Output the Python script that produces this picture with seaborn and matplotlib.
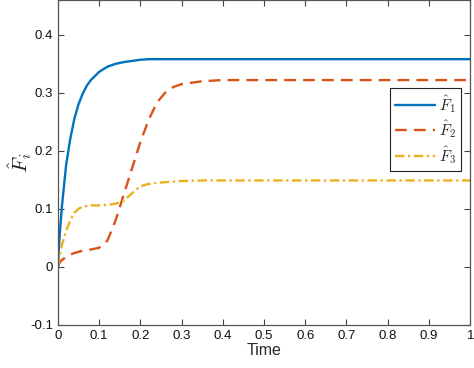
import numpy as np
import pandas as pd
import matplotlib
matplotlib.use("Agg")
import matplotlib.pyplot as plt
import seaborn as sns

# values
time = [0, 0.005, 0.01, 0.02, 0.03, 0.04, 0.05, 0.06, 0.07, 0.08, 0.1, 0.12,
        0.14, 0.16, 0.18, 0.2, 0.22, 0.24, 0.26, 0.28, 0.3, 0.35, 0.4, 0.5, 1.0]
f1 = [0, 0.06, 0.105, 0.175, 0.22, 0.255, 0.28, 0.298, 0.312, 0.322, 0.336, 0.345,
      0.350, 0.353, 0.355, 0.357, 0.358, 0.358, 0.358, 0.358, 0.358, 0.358, 0.358, 0.358, 0.358]
f2 = [0, 0.008, 0.012, 0.017, 0.021, 0.024, 0.026, 0.028, 0.029, 0.030, 0.033, 0.045,
      0.08, 0.125, 0.17, 0.215, 0.253, 0.283, 0.300, 0.310, 0.315, 0.320, 0.322, 0.322, 0.322]
f3 = [0, 0.02, 0.038, 0.062, 0.08, 0.093, 0.100, 0.104, 0.105, 0.106, 0.106, 0.107,
      0.109, 0.114, 0.127, 0.139, 0.143, 0.145, 0.146, 0.147, 0.148, 0.149, 0.149, 0.149, 0.149]
labels = [r"$\hat{F}_1$", r"$\hat{F}_2$", r"$\hat{F}_3$"]
colors = ["#0072BD", "#D95319", "#EDB120"]
styles = ["-", (0, (5, 3)), (0, (4, 1.5, 1, 1.5))]

sns.set_style("ticks")
plt.rcParams["font.family"] = ["Liberation Sans", "DejaVu Sans"]
plt.rcParams["mathtext.fontset"] = "cm"

df = pd.DataFrame({"Time": time, "F1": f1, "F2": f2, "F3": f3})

fig = plt.figure(figsize=(4.74, 3.68), dpi=100)
ax = fig.add_axes([0.122, 0.117, 0.870, 0.883])

for col, lab, c, ls in zip(["F1", "F2", "F3"], labels, colors, styles):
    sns.lineplot(data=df, x="Time", y=col, ax=ax, color=c, linestyle=ls,
                 linewidth=1.7, label=lab)

ax.set_xlim(0, 1)
ax.set_ylim(-0.1, 0.46)
ax.set_xticks(np.arange(0, 1.01, 0.1))
ax.set_xticklabels(["0"] + [f"{v:.1f}" for v in np.arange(0.1, 0.95, 0.1)] + ["1"])
ax.set_yticks([-0.1, 0, 0.1, 0.2, 0.3, 0.4])
ax.set_yticklabels(["-0.1", "0", "0.1", "0.2", "0.3", "0.4"])
ax.tick_params(direction="in", top=True, right=True, length=4, width=0.8,
               colors="#444444", labelcolor="#111111", labelsize=9.5)
for s in ax.spines.values():
    s.set_color("#555555")
    s.set_linewidth(0.9)

ax.set_xlabel("Time", fontsize=11.5, labelpad=1)
ax.set_ylabel(r"$\hat{F}_i$", fontsize=15, va="center")
ax.yaxis.set_label_coords(-0.09, 0.5)

leg = ax.legend(loc="upper right", bbox_to_anchor=(0.978, 0.729), fontsize=11,
                fancybox=False, framealpha=1, edgecolor="#222222",
                handlelength=2.6, handletextpad=0.3, borderpad=0.3,
                labelspacing=0.25, borderaxespad=0)
leg.get_frame().set_linewidth(0.8)

fig.savefig("out.png", dpi=100)
